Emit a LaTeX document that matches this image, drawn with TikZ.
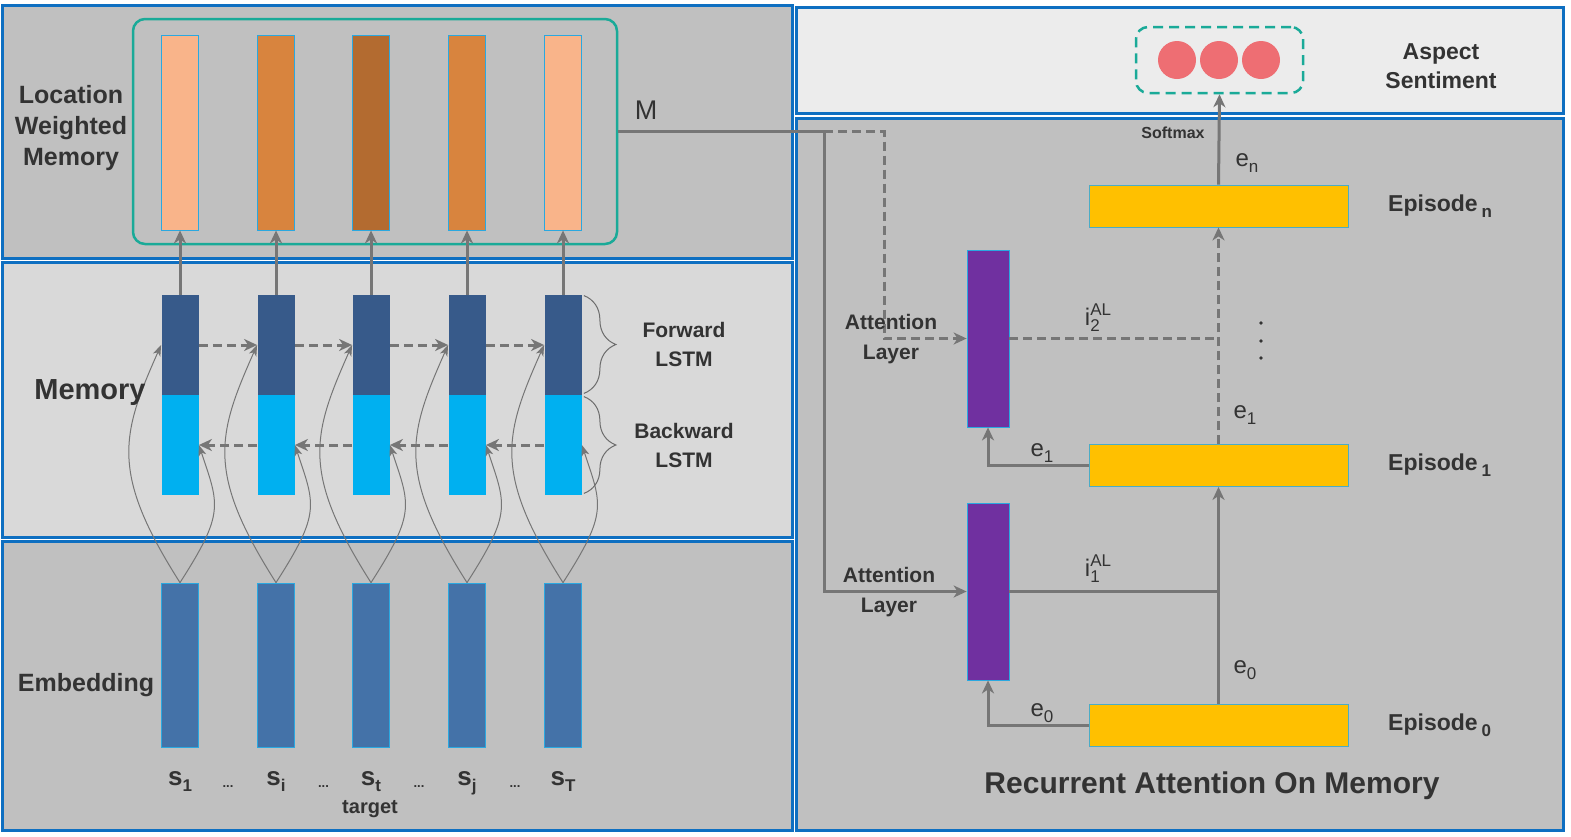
\documentclass[tikz,border=0pt]{standalone}
\usepackage{fontspec}
\setmainfont{Liberation Sans}
\usetikzlibrary{arrows.meta, positioning, decorations.pathreplacing, calc}
\definecolor{panelblue}{HTML}{0E6FC1}
\definecolor{darkpanel}{HTML}{C0C0C0}
\definecolor{lightpanel}{HTML}{D9D9D9}
\definecolor{toppanel}{HTML}{ECECEC}
\definecolor{conngray}{HTML}{767676}
\definecolor{txtgray}{HTML}{333333}
\definecolor{salmonw}{HTML}{F9B48A}
\definecolor{orangew}{HTML}{D8843E}
\definecolor{brownw}{HTML}{B36B30}
\definecolor{fwblue}{HTML}{375A8A}
\definecolor{bwblue}{HTML}{00B0F0}
\definecolor{embblue}{HTML}{4472A8}
\definecolor{barline}{HTML}{2AA8E0}
\definecolor{attpurple}{HTML}{7030A0}
\definecolor{epyellow}{HTML}{FFC000}
\definecolor{epline}{HTML}{4BACC6}
\definecolor{tealw}{HTML}{1AAA98}
\definecolor{dotred}{HTML}{EE6E73}
\newcommand{\lowsub}[1]{\raisebox{-6pt}{\fontsize{17}{17}\selectfont #1}}
\newcommand{\highsup}[1]{\raisebox{10pt}{\fontsize{17}{17}\selectfont #1}}
\tikzstyle{panel} = [draw=panelblue, line width=3pt]
\tikzstyle{bar} = [rectangle, inner sep=0pt, minimum width=37pt, draw=barline, line width=0.8pt]
\tikzstyle{epbar} = [rectangle, inner sep=0pt, minimum width=259pt, minimum height=42pt, draw=epline, line width=0.8pt, fill=epyellow]
\tikzstyle{attbar} = [rectangle, inner sep=0pt, minimum width=42pt, minimum height=177pt, draw=barline, line width=0.8pt, fill=attpurple]
\tikzstyle{txt} = [text=txtgray, align=center, inner sep=0pt]
\tikzstyle{sym} = [text=txtgray, inner sep=0pt, font=\fontsize{24}{24}\selectfont]
\tikzstyle{line} = [conngray, line width=3pt, -{Stealth[length=13pt,width=12pt,inset=4pt]}]
\tikzstyle{dline} = [line, dash pattern=on 9pt off 5pt]
\tikzstyle{curve} = [conngray, line width=1pt, -{Stealth[length=11pt,width=8pt,inset=3pt]}]
\tikzstyle{braceline} = [draw=gray!85!black, line width=1pt, decorate, decoration={brace, amplitude=32pt, raise=2pt}]

\begin{document}
\begin{tikzpicture}[x=1pt, y=-1pt]
  \fill[white] (0,0) rectangle (1571,836);
  \useasboundingbox (0,0) rectangle (1571,836);
  % panels
  \draw[panel, fill=darkpanel] (2,5) rectangle (792,258);
  \draw[panel, fill=lightpanel] (2,262) rectangle (792,537);
  \draw[panel, fill=darkpanel] (2,541) rectangle (792,830);
  \draw[panel, fill=toppanel] (796,7) rectangle (1563,113);
  \draw[panel, fill=darkpanel] (796,118) rectangle (1563,830);

  % left: memory columns
  \node (lwm) [draw=tealw, line width=2.5pt, rounded corners=12pt, minimum width=484pt, minimum height=225pt] at (375,131.5) {};
  \foreach \x/\c/\n [count=\i] in {180/salmonw/1, 276/orangew/i, 371/brownw/t, 467/orangew/j, 563/salmonw/T} {
    \node (w\i) [bar, fill=\c, minimum height=195pt] at (\x,132.5) {};
    \node (f\i) [bar, fill=fwblue, draw=none, minimum height=100pt] at (\x,345) {};
    \node (b\i) [bar, fill=bwblue, draw=none, minimum height=100pt] at (\x,445) {};
    \node (s\i) [bar, fill=embblue, minimum height=164pt] at (\x,665) {};
    \node (l\i) [txt, font=\bfseries\fontsize{26}{26}\selectfont, anchor=base] at (\x,785) {s\lowsub{\n}};
    \draw[line] (f\i.north) -- (w\i.south);
    \draw[curve] (s\i.north) .. controls +(-70,-110) and +(-40,90) .. (f\i.west);
    \draw[curve] (s\i.north) .. controls +(45,-70) and +(20,60) .. (b\i.east);
  }
  \foreach \i/\j in {1/2,2/3,3/4,4/5} {
    \draw[dline] (f\i.east) -- (f\j.west);
    \draw[dline] (b\j.west) -- (b\i.east);
    \node (d\i) [txt, font=\bfseries\fontsize{13}{13}\selectfont, anchor=base] at ($(l\i.base)!0.5!(l\j.base)+(0,2)$) {...};
  }
  \draw[braceline] ([yshift=-1pt]f5.north east) -- ([yshift=2pt]f5.south east);
  \draw[braceline] ([yshift=-2pt]b5.north east) -- ([yshift=2pt]b5.south east);

  % right: recurrent attention
  \node (sent) [draw=tealw, line width=2.5pt, dash pattern=on 10pt off 6pt, rounded corners=12pt, minimum width=167pt, minimum height=66pt] at (1219.5,60) {};
  \foreach \x [count=\i] in {1177,1219,1261}
    \node (o\i) [circle, fill=dotred, inner sep=0pt, minimum size=38pt] at (\x,60) {};
  \node (epn) [epbar] at (1218.5,206) {};
  \node (ep1) [epbar] at (1218.5,465.5) {};
  \node (ep0) [epbar] at (1218.5,725) {};
  \node (att1) [attbar] at (988,338.5) {};
  \node (att2) [attbar] at (988,591.5) {};
  \coordinate (msplit) at ($(lwm.east)+(206,0)$);
  \coordinate (dsplit) at ($(msplit)+(60,0)$);

  \draw[line] (epn.north) -- (sent.south);
  \draw[dline, line width=2.5pt] (ep1.north) -- (epn.south);
  \draw[line] (ep0.north) -- (ep1.south);
  \draw[line] (ep1.west) -| (att1.south);
  \draw[line] (ep0.west) -| (att2.south);
  \draw[line, -] (att2.east) -- (att2.east -| ep0.north);
  \draw[dline, line width=2.5pt, -] (att1.east) -- (att1.east -| ep1.north);
  \draw[line, line width=2.5pt] (lwm.east) -- (msplit) |- (att2.west);
  \draw[dline, line width=2.5pt] (msplit) -- (dsplit) |- (att1.west);
  \foreach \y in {323,341,358}
    \fill[txtgray] (1261,\y) circle (1.8pt);

  % labels
  \node (lwmtxt) [txt, font=\bfseries\fontsize{25}{31}\selectfont] at (71,128) {Location\\Weighted\\Memory};
  \node (memtxt) [txt, font=\bfseries\fontsize{29}{29}\selectfont] at (90,393) {Memory};
  \node (embtxt) [txt, font=\bfseries\fontsize{25}{25}\selectfont] at (86,685) {Embedding};
  \node (fwtxt) [txt, font=\bfseries\fontsize{21}{29}\selectfont] at (684,344) {Forward\\LSTM};
  \node (bwtxt) [txt, font=\bfseries\fontsize{21}{29}\selectfont] at (684,445) {Backward\\LSTM};
  \node (tgt) [txt, font=\bfseries\fontsize{20}{20}\selectfont] at (370,809) {target};
  \node (mtxt) [sym, font=\fontsize{27}{27}\selectfont] at (646,110) {M};
  \node (senttxt) [txt, font=\bfseries\fontsize{23}{29}\selectfont] at (1441,66) {Aspect\\Sentiment};
  \node (smax) [txt, font=\bfseries\fontsize{16}{16}\selectfont] at (1173,133) {Softmax};
  \node (entxt) [sym] at (1247,163) {e\lowsub{n}};
  \node (e1up) [sym] at (1245,415) {e\lowsub{1}};
  \node (e0up) [sym] at (1245,670) {e\lowsub{0}};
  \node (e1left) [sym] at (1042,453) {e\lowsub{1}};
  \node (e0left) [sym] at (1042,713) {e\lowsub{0}};
  \node (i2txt) [sym] at (1098,318) {i\rlap{\lowsub{2}}\highsup{AL}};
  \node (i1txt) [sym] at (1098,569) {i\rlap{\lowsub{1}}\highsup{AL}};
  \node (att1txt) [txt, font=\bfseries\fontsize{21}{30}\selectfont] at (891,339) {Attention\\Layer};
  \node (att2txt) [txt, font=\bfseries\fontsize{21}{30}\selectfont] at (889,592) {Attention\\Layer};
  \node (epntxt) [txt, font=\bfseries\fontsize{23}{23}\selectfont, anchor=west] at (1388,206) {Episode\,\lowsub{n}};
  \node (ep1txt) [txt, font=\bfseries\fontsize{23}{23}\selectfont, anchor=west] at (1388,465) {Episode\,\lowsub{1}};
  \node (ep0txt) [txt, font=\bfseries\fontsize{23}{23}\selectfont, anchor=west] at (1388,725) {Episode\,\lowsub{0}};
  \node (ramtxt) [txt, font=\bfseries\fontsize{30}{30}\selectfont] at (1212,786) {Recurrent Attention On Memory};
\end{tikzpicture}
\end{document}
